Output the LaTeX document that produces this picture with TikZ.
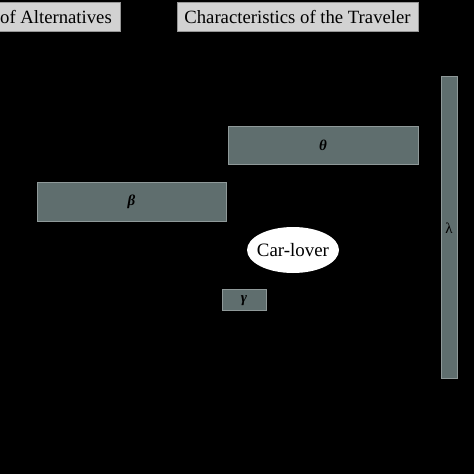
\documentclass[tikz,border=0pt]{standalone}
\usepackage{fontspec}
\setmainfont{Liberation Serif}
\usetikzlibrary{shapes.geometric}
\definecolor{slate}{RGB}{95,110,110}
\definecolor{hdrfill}{RGB}{210,210,210}
\definecolor{hdredge}{RGB}{150,150,150}
\tikzset{
  hdrbox/.style={draw=hdredge, line width=1pt, fill=hdrfill},
  parbox/.style={fill=slate, draw=slate!70!white, line width=0.6pt},
  hdrtext/.style={font=\fontsize{18.7}{22}\selectfont, text=black, inner sep=0pt},
  greek/.style={font=\fontsize{15}{17}\selectfont\bfseries\itshape, text=black, inner sep=0pt},
}
\begin{document}
\begin{tikzpicture}[x=1pt,y=-1pt]
\useasboundingbox (0,0) rectangle (474,474);
\fill[black] (0,0) rectangle (474,474);
% headers
\draw[hdrbox] (-2,2) rectangle (120,31);
\node[hdrtext, anchor=east] (halt) at (112,17) {of Alternatives};
\draw[hdrbox] (177,2) rectangle (418,31);
\node[hdrtext] (htrav) at (297.5,17) {Characteristics of the Traveler};
% parameter boxes
\draw[parbox] (228,126) rectangle (418,164);
\node[greek] (theta) at (323,145) {θ};
\draw[parbox] (37,182) rectangle (226,221);
\node[greek] (beta) at (131.5,202) {β};
\draw[parbox] (222,289) rectangle (266,310);
\node[greek] (gamma) at (244,301) {γ};
\draw[parbox] (441,76) rectangle (457,378);
\node[font=\fontsize{15}{17}\selectfont, text=black, inner sep=0pt] (lambda) at (449,228) {λ};
% ellipse
\fill[white] (293,250) ellipse [x radius=46, y radius=23];
\node[inner sep=0pt, font=\fontsize{18.9}{22}\selectfont] (car) at (293,250) {Car-lover};
\end{tikzpicture}
\end{document}
